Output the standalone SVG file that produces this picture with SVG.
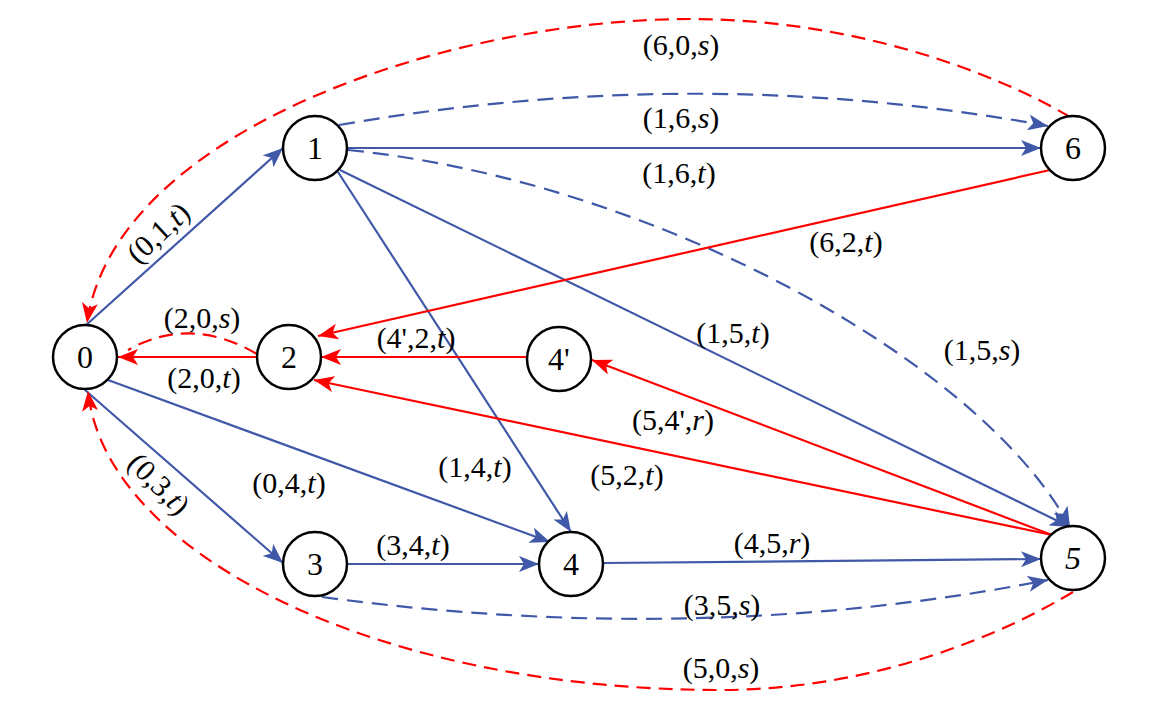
<svg xmlns="http://www.w3.org/2000/svg" width="1167" height="715" viewBox="0 0 1167 715">
<style>
.b{stroke:#4058A8;stroke-width:2.2;fill:none}
.r{stroke:#FF0000;stroke-width:2.2;fill:none}
.bd{stroke-dasharray:16 9}
.rd{stroke-dasharray:14 8}
.ab{marker-end:url(#ab)}
.ar{marker-end:url(#ar)}
.node circle{fill:#fff;stroke:#000;stroke-width:2.5}
.node text{font-size:32px;fill:#000;text-anchor:middle}
.lbl{font-size:30px;fill:#000;text-anchor:middle}
.i{font-style:italic}
</style>
<defs>
<marker id="ab" markerUnits="userSpaceOnUse" markerWidth="22" markerHeight="16" refX="20" refY="8" orient="auto">
<path d="M0,0 L20,8 L0,16 L5,8 z" fill="#4058A8"/>
</marker>
<marker id="ar" markerUnits="userSpaceOnUse" markerWidth="22" markerHeight="16" refX="20" refY="8" orient="auto">
<path d="M0,0 L20,8 L0,16 L5,8 z" fill="#FF0000"/>
</marker>
</defs>
<rect width="1167" height="715" fill="#fff"/>
<g id="connectors">
<path class="r rd ar" d="M1070,117 C990,70 850,19 690,19 C450,19 115,130 87,323"/>
<path class="b bd ab" d="M339,125 Q700,62 1048,126"/>
<path class="b ab" d="M347,148 L1041,148"/>
<path class="b bd ab" d="M348,150 C650,180 980,360 1070,527"/>
<path class="b ab" d="M340,170 L1070,527"/>
<path class="b ab" d="M338,172 L571,532"/>
<path class="r ar" d="M1050,170 L318,336"/>
<path class="r rd" d="M257,354 Q190,315 128,350"/>
<path class="r ar" d="M258,357 L118,357"/>
<path class="r ar" d="M527,357 L321,357"/>
<path class="r ar" d="M1052,535 L592,360"/>
<path class="r ar" d="M1052,535 L314,380"/>
<path class="b ab" d="M85,326 L283,148"/>
<path class="b ab" d="M85,390 L283,563"/>
<path class="b ab" d="M108,380 L550,542"/>
<path class="b ab" d="M347,564 L539,564"/>
<path class="b ab" d="M603,563 L1041,559"/>
<path class="b bd ab" d="M322,597 Q700,648 1048,580"/>
<path class="r rd ar" d="M1073,592 C1010,630 880,690 720,690 C380,690 105,555 88,391"/>
</g>
<g id="labels" font-family="Liberation Serif, DejaVu Serif, serif">
<text class="lbl" x="681" y="55">(6,0,<tspan class="i">s</tspan>)</text>
<text class="lbl" x="681" y="128">(1,6,<tspan class="i">s</tspan>)</text>
<text class="lbl" x="679" y="183">(1,6,<tspan class="i">t</tspan>)</text>
<text class="lbl" x="846" y="252">(6,2,<tspan class="i">t</tspan>)</text>
<text class="lbl" x="982" y="360">(1,5,<tspan class="i">s</tspan>)</text>
<text class="lbl" x="733" y="343">(1,5,<tspan class="i">t</tspan>)</text>
<text class="lbl" x="673" y="430">(5,4',<tspan class="i">r</tspan>)</text>
<text class="lbl" x="627" y="485">(5,2,<tspan class="i">t</tspan>)</text>
<text class="lbl" x="475" y="477">(1,4,<tspan class="i">t</tspan>)</text>
<text class="lbl" x="416" y="348">(4',2,<tspan class="i">t</tspan>)</text>
<text class="lbl" x="202" y="328">(2,0,<tspan class="i">s</tspan>)</text>
<text class="lbl" x="204" y="388">(2,0,<tspan class="i">t</tspan>)</text>
<text class="lbl" x="289" y="493">(0,4,<tspan class="i">t</tspan>)</text>
<text class="lbl" x="413" y="555">(3,4,<tspan class="i">t</tspan>)</text>
<text class="lbl" x="772" y="553">(4,5,<tspan class="i">r</tspan>)</text>
<text class="lbl" x="722" y="615">(3,5,<tspan class="i">s</tspan>)</text>
<text class="lbl" x="721" y="678">(5,0,<tspan class="i">s</tspan>)</text>
<text class="lbl" transform="translate(165,240) rotate(-43)">(0,1,<tspan class="i">t</tspan>)</text>
<text class="lbl" transform="translate(152,491) rotate(45)">(0,3,<tspan class="i">t</tspan>)</text>
</g>
<g id="nodes" font-family="Liberation Serif, DejaVu Serif, serif">
<g id="node-0" class="node"><circle cx="85" cy="357" r="32"/><text x="85" y="368">0</text></g>
<g id="node-1" class="node"><circle cx="315" cy="148" r="32"/><text x="315" y="159">1</text></g>
<g id="node-2" class="node"><circle cx="289" cy="357" r="32"/><text x="289" y="368">2</text></g>
<g id="node-3" class="node"><circle cx="315" cy="564" r="32"/><text x="315" y="575">3</text></g>
<g id="node-4" class="node"><circle cx="571" cy="564" r="32"/><text x="571" y="575">4</text></g>
<g id="node-4p" class="node"><circle cx="559" cy="359" r="32"/><text x="559" y="370">4'</text></g>
<g id="node-5" class="node"><circle cx="1073" cy="558" r="32"/><text x="1073" y="569" font-style="italic">5</text></g>
<g id="node-6" class="node"><circle cx="1073" cy="148" r="32"/><text x="1073" y="159">6</text></g>
</g>
</svg>
